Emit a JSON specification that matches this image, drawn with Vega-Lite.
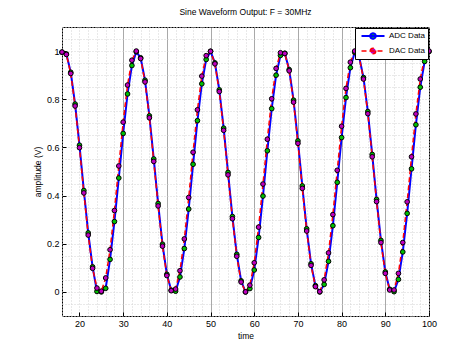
{
  "$schema": "https://vega.github.io/schema/vega-lite/v6.json",
  "width": 367,
  "height": 289,
  "autosize": {"type": "none"},
  "padding": {"left": 62, "top": 27, "right": 45, "bottom": 39},
  "background": "white",
  "title": {"text": "Sine Waveform Output: F = 30MHz", "fontSize": 8.5, "fontWeight": "normal", "font": "Liberation Sans", "offset": 7, "color": "black"},
  "config": {
    "font": "Liberation Sans",
    "view": {"stroke": "black", "strokeWidth": 1},
    "axis": {"domain": false, "labelFontSize": 9, "labelColor": "black", "titleFontSize": 8.5, "titleFontWeight": "normal", "titleColor": "black", "tickColor": "black", "labelOverlap": false, "labelFlush": false, "gridWidth": 1, "tickSize": -4}
  },
  "data": {"values": [
    {"time":16,"adc":0.995,"dac":0.996},{"time":17,"adc":0.988,"dac":0.986},{"time":18,"adc":0.912,"dac":0.907},{"time":19,"adc":0.780,"dac":0.772},
    {"time":20,"adc":0.609,"dac":0.599},{"time":21,"adc":0.421,"dac":0.411},{"time":22,"adc":0.245,"dac":0.236},{"time":23,"adc":0.104,"dac":0.098},
    {"time":24,"adc":0.002,"dac":0.016},{"time":25,"adc":0.000,"dac":0.003},{"time":26,"adc":0.015,"dac":0.058},{"time":27,"adc":0.135,"dac":0.175},
    {"time":28,"adc":0.292,"dac":0.338},{"time":29,"adc":0.473,"dac":0.523},{"time":30,"adc":0.658,"dac":0.705},{"time":31,"adc":0.822,"dac":0.859},
    {"time":32,"adc":0.940,"dac":0.962},{"time":33,"adc":0.997,"dac":1.000},{"time":34,"adc":0.972,"dac":0.969},{"time":35,"adc":0.879,"dac":0.872},
    {"time":36,"adc":0.731,"dac":0.723},{"time":37,"adc":0.552,"dac":0.542},{"time":38,"adc":0.367,"dac":0.357},{"time":39,"adc":0.198,"dac":0.190},
    {"time":40,"adc":0.073,"dac":0.068},{"time":41,"adc":0.007,"dac":0.005},{"time":42,"adc":0.003,"dac":0.012},{"time":43,"adc":0.062,"dac":0.088},
    {"time":44,"adc":0.180,"dac":0.220},{"time":45,"adc":0.344,"dac":0.392},{"time":46,"adc":0.530,"dac":0.580},{"time":47,"adc":0.711,"dac":0.756},
    {"time":48,"adc":0.864,"dac":0.896},{"time":49,"adc":0.965,"dac":0.981},{"time":50,"adc":0.999,"dac":0.999},{"time":51,"adc":0.951,"dac":0.947},
    {"time":52,"adc":0.839,"dac":0.832},{"time":53,"adc":0.680,"dac":0.671},{"time":54,"adc":0.496,"dac":0.486},{"time":55,"adc":0.313,"dac":0.304},
    {"time":56,"adc":0.156,"dac":0.148},{"time":57,"adc":0.046,"dac":0.041},{"time":58,"adc":0.000,"dac":0.000},{"time":59,"adc":0.014,"dac":0.028},
    {"time":60,"adc":0.091,"dac":0.121},{"time":61,"adc":0.226,"dac":0.269},{"time":62,"adc":0.398,"dac":0.448},{"time":63,"adc":0.586,"dac":0.634},
    {"time":64,"adc":0.761,"dac":0.802},{"time":65,"adc":0.900,"dac":0.928},{"time":66,"adc":0.982,"dac":0.993},{"time":67,"adc":0.991,"dac":0.990},
    {"time":68,"adc":0.923,"dac":0.918},{"time":69,"adc":0.796,"dac":0.788},{"time":70,"adc":0.627,"dac":0.617},{"time":71,"adc":0.440,"dac":0.430},
    {"time":72,"adc":0.262,"dac":0.253},{"time":73,"adc":0.117,"dac":0.110},{"time":74,"adc":0.026,"dac":0.022},{"time":75,"adc":0.000,"dac":0.001},
    {"time":76,"adc":0.031,"dac":0.050},{"time":77,"adc":0.127,"dac":0.162},{"time":78,"adc":0.275,"dac":0.321},{"time":79,"adc":0.455,"dac":0.505},
    {"time":80,"adc":0.641,"dac":0.688},{"time":81,"adc":0.807,"dac":0.845},{"time":82,"adc":0.931,"dac":0.954},{"time":83,"adc":0.995,"dac":1.000},
    {"time":84,"adc":0.978,"dac":0.976},{"time":85,"adc":0.890,"dac":0.884},{"time":86,"adc":0.749,"dac":0.740},{"time":87,"adc":0.571,"dac":0.561},
    {"time":88,"adc":0.384,"dac":0.375},{"time":89,"adc":0.214,"dac":0.205},{"time":90,"adc":0.083,"dac":0.077},{"time":91,"adc":0.011,"dac":0.008},
    {"time":92,"adc":0.001,"dac":0.008},{"time":93,"adc":0.052,"dac":0.077},{"time":94,"adc":0.166,"dac":0.205},{"time":95,"adc":0.326,"dac":0.374},
    {"time":96,"adc":0.511,"dac":0.561},{"time":97,"adc":0.694,"dac":0.739},{"time":98,"adc":0.850,"dac":0.884},{"time":99,"adc":0.957,"dac":0.975},
    {"time":100,"adc":0.998,"dac":1.000}
  ]},
  "transform": [{"fold": ["adc", "dac"], "as": ["series", "amplitude"]}],
  "encoding": {
    "x": {
      "field": "time", "type": "quantitative",
      "scale": {"domain": [16, 100], "nice": false, "zero": false},
      "axis": {
        "title": "time",
        "values": [16,18,20,22,24,26,28,30,32,34,36,38,40,42,44,46,48,50,52,54,56,58,60,62,64,66,68,70,72,74,76,78,80,82,84,86,88,90,92,94,96,98,100],
        "labelExpr": "datum.value % 10 === 0 ? datum.label : ''",
        "grid": true,
        "gridColor": {"condition": {"test": "datum.value % 10 === 0 && datum.value >= 30 && datum.value <= 90", "value": "#8c8c8c"}, "value": "#d2d2d2"},
        "gridDash": {"condition": {"test": "datum.value % 10 === 0 && datum.value >= 30 && datum.value <= 90", "value": [1, 0]}, "value": [1, 2]},
        "tickOpacity": {"condition": {"test": "datum.value % 10 === 0", "value": 1}, "value": 0},
        "labelPadding": 7,
        "titlePadding": 3
      }
    },
    "y": {
      "field": "amplitude", "type": "quantitative",
      "scale": {"domain": [-0.1, 1.1], "nice": false, "zero": false},
      "axis": {
        "title": "amplitude (V)",
        "values": [-0.1,-0.05,0,0.05,0.1,0.15,0.2,0.25,0.3,0.35,0.4,0.45,0.5,0.55,0.6,0.65,0.7,0.75,0.8,0.85,0.9,0.95,1,1.05,1.1],
        "labelExpr": "abs(datum.value * 5 - round(datum.value * 5)) < 1e-6 ? format(datum.value, '~g') : ''",
        "grid": true,
        "gridColor": "#d2d2d2",
        "gridDash": [1, 2],
        "tickOpacity": {"condition": {"test": "abs(datum.value * 5 - round(datum.value * 5)) < 1e-6", "value": 1}, "value": 0},
        "labelPadding": 7,
        "titlePadding": 4
      }
    }
  },
  "layer": [
    {
      "mark": {"type": "line"},
      "encoding": {
        "color": {
          "field": "series", "type": "nominal",
          "scale": {"domain": ["adc", "dac"], "range": ["#0000ff", "#ff0000"]},
          "legend": {
            "title": null, "orient": "top-right", "offset": 1,
            "labelExpr": "datum.value === 'adc' ? 'ADC Data' : 'DAC Data'",
            "symbolType": "M-0.3,0L4.3,0M1.45,0A0.55,0.55 0 1,1 2.55,0A0.55,0.55 0 1,1 1.45,0",
            "symbolSize": 100, "symbolStrokeWidth": 1.3,
            "symbolFillColor": {"expr": "datum.value === 'adc' ? '#00c000' : '#c000c0'"},
            "strokeColor": "black", "fillColor": "white", "padding": 2, "rowPadding": 2,
            "labelFontSize": 8, "labelOffset": 20, "labelColor": "black", "cornerRadius": 0
          }
        },
        "strokeDash": {
          "field": "series", "type": "nominal",
          "scale": {"domain": ["adc", "dac"], "range": [[1, 0], [5, 3]]},
          "legend": {
            "title": null, "orient": "top-right", "offset": 1,
            "labelExpr": "datum.value === 'adc' ? 'ADC Data' : 'DAC Data'",
            "symbolType": "M-0.3,0L4.3,0M1.45,0A0.55,0.55 0 1,1 2.55,0A0.55,0.55 0 1,1 1.45,0",
            "symbolSize": 100, "symbolStrokeWidth": 1.3,
            "symbolFillColor": {"expr": "datum.value === 'adc' ? '#00c000' : '#c000c0'"},
            "strokeColor": "black", "fillColor": "white", "padding": 2, "rowPadding": 2,
            "labelFontSize": 8, "labelOffset": 20, "labelColor": "black", "cornerRadius": 0
          }
        },
        "strokeWidth": {
          "field": "series", "type": "nominal",
          "scale": {"domain": ["adc", "dac"], "range": [2, 1.5]},
          "legend": null
        }
      }
    },
    {
      "mark": {"type": "point", "filled": true, "size": 22, "stroke": "black", "strokeWidth": 1, "opacity": 1},
      "encoding": {
        "fill": {
          "field": "series", "type": "nominal",
          "scale": {"domain": ["adc", "dac"], "range": ["#00c000", "#c000c0"]},
          "legend": null
        }
      }
    }
  ]
}
